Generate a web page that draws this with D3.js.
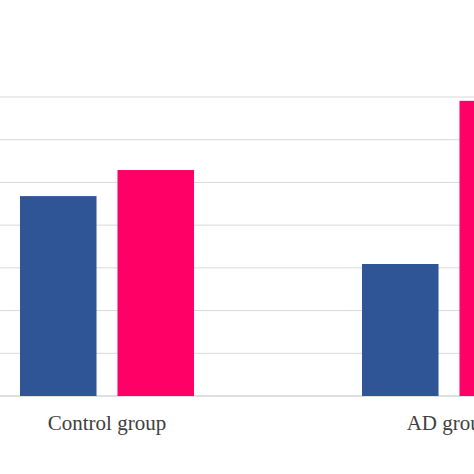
<!DOCTYPE html>
<html lang="en">
<head>
  <meta charset="UTF-8">
  <title>Grouped Bar Chart</title>
  <script src="https://d3js.org/d3.v7.min.js"></script>
  <style>
    body { margin: 0; background: #fff; }
    text { font-family: "Liberation Serif", "DejaVu Serif", serif; }
  </style>
</head>
<body>
  <svg id="chart" width="474" height="474"></svg>
  <script>
    // Data (in gridline units)
    const groups = ["Control group", "AD group"];
    const series = ["Series 1", "Series 2"];
    const seriesColors = ["#2f5597", "#ff0066"];
    const values = [
      [4.68, 5.29],
      [3.09, 6.91]
    ];
    const yTicks = [0, 1, 2, 3, 4, 5, 6, 7];

    const width = 474, height = 474;
    const svg = d3.select("#chart");

    // Plot runs off the right edge, like the cropped original
    const x0 = d3.scaleBand().domain(groups).range([-64, 620]).padding(0);
    const x1 = d3.scaleBand().domain(series).range([84, 258]).paddingInner(0.215);
    const y = d3.scaleLinear().domain([0, 7]).range([396, 97]);

    // Gridlines
    svg.append("g")
       .selectAll("line")
       .data(yTicks)
       .enter().append("line")
       .attr("x1", 0)
       .attr("x2", width)
       .attr("y1", d => y(d))
       .attr("y2", d => y(d))
       .attr("stroke", d => d === 0 ? "#bfbfbf" : "#d9d9d9")
       .attr("stroke-width", 1);

    // Bars
    svg.append("g")
       .selectAll("g")
       .data(groups)
       .enter().append("g")
       .attr("transform", d => `translate(${x0(d)},0)`)
       .selectAll("rect")
       .data((d, i) => values[i].map((v, j) => ({ key: series[j], value: v, j })))
       .enter().append("rect")
       .attr("x", d => x1(d.key))
       .attr("y", d => y(d.value))
       .attr("width", x1.bandwidth())
       .attr("height", d => y(0) - y(d.value))
       .attr("fill", d => seriesColors[d.j]);

    // Category labels
    svg.append("g")
       .selectAll("text")
       .data(groups)
       .enter().append("text")
       .attr("x", d => x0(d) + (84 + 258) / 2)
       .attr("y", 430)
       .attr("text-anchor", "middle")
       .attr("fill", "#404040")
       .style("font-size", "21px")
       .text(d => d);
  </script>
</body>
</html>
